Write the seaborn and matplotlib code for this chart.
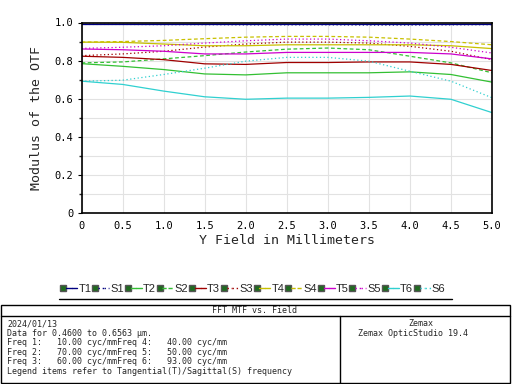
import matplotlib
matplotlib.use("Agg")
import matplotlib.pyplot as plt
import seaborn as sns
from matplotlib.lines import Line2D
from matplotlib.patches import Rectangle
from matplotlib.legend_handler import HandlerTuple
from matplotlib.ticker import MultipleLocator

sns.set_theme(style="white")
plt.rcParams["font.family"] = ["DejaVu Sans Mono"]

# field positions (mm)
field = [0.0, 0.5, 1.0, 1.5, 2.0, 2.5, 3.0, 3.5, 4.0, 4.5, 5.0]

# MTF values
t1 = [0.990, 0.990, 0.990, 0.990, 0.990, 0.990, 0.990, 0.990, 0.990, 0.990, 0.990]
s1 = [0.990, 0.990, 0.989, 0.989, 0.988, 0.988, 0.988, 0.987, 0.987, 0.988, 0.989]
t2 = [0.784, 0.770, 0.753, 0.730, 0.725, 0.736, 0.736, 0.736, 0.741, 0.727, 0.687]
s2 = [0.788, 0.793, 0.809, 0.826, 0.845, 0.860, 0.866, 0.857, 0.823, 0.788, 0.736]
t3 = [0.823, 0.817, 0.805, 0.783, 0.780, 0.790, 0.790, 0.793, 0.793, 0.780, 0.748]
s3 = [0.826, 0.835, 0.849, 0.871, 0.887, 0.897, 0.897, 0.892, 0.875, 0.849, 0.805]
t4 = [0.897, 0.896, 0.887, 0.878, 0.878, 0.883, 0.883, 0.883, 0.883, 0.878, 0.863]
s4 = [0.897, 0.900, 0.906, 0.915, 0.923, 0.927, 0.927, 0.923, 0.913, 0.900, 0.883]
t5 = [0.861, 0.857, 0.849, 0.835, 0.835, 0.843, 0.843, 0.843, 0.843, 0.835, 0.809]
s5 = [0.864, 0.870, 0.878, 0.892, 0.904, 0.913, 0.913, 0.904, 0.892, 0.870, 0.840]
t6 = [0.692, 0.675, 0.640, 0.610, 0.597, 0.603, 0.603, 0.607, 0.614, 0.597, 0.527]
s6 = [0.692, 0.697, 0.727, 0.760, 0.797, 0.817, 0.817, 0.797, 0.744, 0.692, 0.605]

labels = ["T1", "S1", "T2", "S2", "T3", "S3", "T4", "S4", "T5", "S5", "T6", "S6"]
series = [t1, s1, t2, s2, t3, s3, t4, s4, t5, s5, t6, s6]
colors = ["#000080", "#000080", "#33c033", "#33c033", "#a00000", "#a00000",
          "#c8c000", "#c8c000", "#cc00cc", "#cc00cc", "#30d0d0", "#30d0d0"]
styles = ["-", (0, (1, 2)), "-", (0, (3, 2)), "-", (0, (1, 2)),
          "-", (0, (3, 2)), "-", (0, (1, 2)), "-", (0, (1, 2))]

x_ticks = [0.0, 0.5, 1.0, 1.5, 2.0, 2.5, 3.0, 3.5, 4.0, 4.5, 5.0]
x_ticklabels = ["0", "0.5", "1.0", "1.5", "2.0", "2.5", "3.0", "3.5", "4.0", "4.5", "5.0"]
y_ticks = [0.0, 0.2, 0.4, 0.6, 0.8, 1.0]
y_ticklabels = ["0", "0.2", "0.4", "0.6", "0.8", "1.0"]

W, H = 512, 384
fig = plt.figure(figsize=(W / 100, H / 100), dpi=100)
fig.patch.set_facecolor("white")

ax = fig.add_axes([81.5 / W, 1 - 213 / H, (492 - 81.5) / W, (213 - 22.5) / H])
ax.set_facecolor("white")

for lab, vals, c, ls in zip(labels, series, colors, styles):
    sns.lineplot(x=field, y=vals, ax=ax, color=c, linestyle=ls, linewidth=0.9)

ax.set_xlim(0, 5)
ax.set_ylim(0, 1)
ax.set_xticks(x_ticks, x_ticklabels)
ax.set_yticks(y_ticks, y_ticklabels)
ax.yaxis.set_minor_locator(MultipleLocator(0.1))
ax.grid(True, which="both", color="#e2e2e2", linewidth=0.8)
ax.set_axisbelow(True)
ax.tick_params(axis="both", which="major", labelsize=7.5, length=3, width=0.8,
               colors="black", pad=3, left=True, bottom=False)
ax.tick_params(axis="y", which="minor", length=2, left=True)
for sp in ax.spines.values():
    sp.set_color("black")
    sp.set_linewidth(1.2)
    sp.set_visible(True)
ax.set_xlabel("Y Field in Millimeters", fontsize=9.5, labelpad=2)
ax.set_ylabel("Modulus of the OTF", fontsize=9.5, labelpad=8)

# legend: checkbox followed by a line sample
handles = []
for c, ls in zip(colors, styles):
    box = Line2D([], [], marker="s", markersize=4.5, markerfacecolor="#1f6b1f",
                 markeredgecolor="#555555", linestyle="none")
    ln = Line2D([], [], color=c, linestyle=ls, linewidth=1.0)
    handles.append((box, ln, ln))
fig.legend(handles, labels, loc="center", bbox_to_anchor=(253 / W, 1 - 289 / H),
           ncol=12, frameon=False, handlelength=1.5, handletextpad=0.1,
           columnspacing=0.1, borderaxespad=0, borderpad=0,
           handler_map={tuple: HandlerTuple(ndivide=None, pad=0)},
           prop={"family": "Liberation Sans", "size": 8})

# bottom info box in pixel coordinates
bx = fig.add_axes([0, 0, 1, 1])
bx.set_xlim(0, W)
bx.set_ylim(H, 0)
bx.axis("off")
bx.patch.set_alpha(0)
bx.plot([59, 452], [299, 299], color="black", linewidth=1.0)
bx.add_patch(Rectangle((1, 305), 509, 78, fill=False, edgecolor="black", linewidth=1.0))
bx.plot([1, 510], [315.5, 315.5], color="black", linewidth=1.0)
bx.plot([340, 340], [315.5, 383], color="black", linewidth=1.0)

bx.text(255, 310.5, "FFT MTF vs. Field", ha="center", va="center", fontsize=6)
info = [
    "2024/01/13",
    "Data for 0.4600 to 0.6563 \u00b5m.",
    "Freq 1:   10.00 cyc/mmFreq 4:   40.00 cyc/mm",
    "Freq 2:   70.00 cyc/mmFreq 5:   50.00 cyc/mm",
    "Freq 3:   60.00 cyc/mmFreq 6:   93.00 cyc/mm",
    "Legend items refer to Tangential(T)/Sagittal(S) frequency",
]
for i, line in enumerate(info):
    bx.text(7, 324 + 9.4 * i, line, ha="left", va="center", fontsize=6)
bx.text(421, 324, "Zemax", ha="center", va="center", fontsize=6)
bx.text(413, 334, "Zemax OpticStudio 19.4", ha="center", va="center", fontsize=6)

fig.savefig("out.png", dpi=100)
